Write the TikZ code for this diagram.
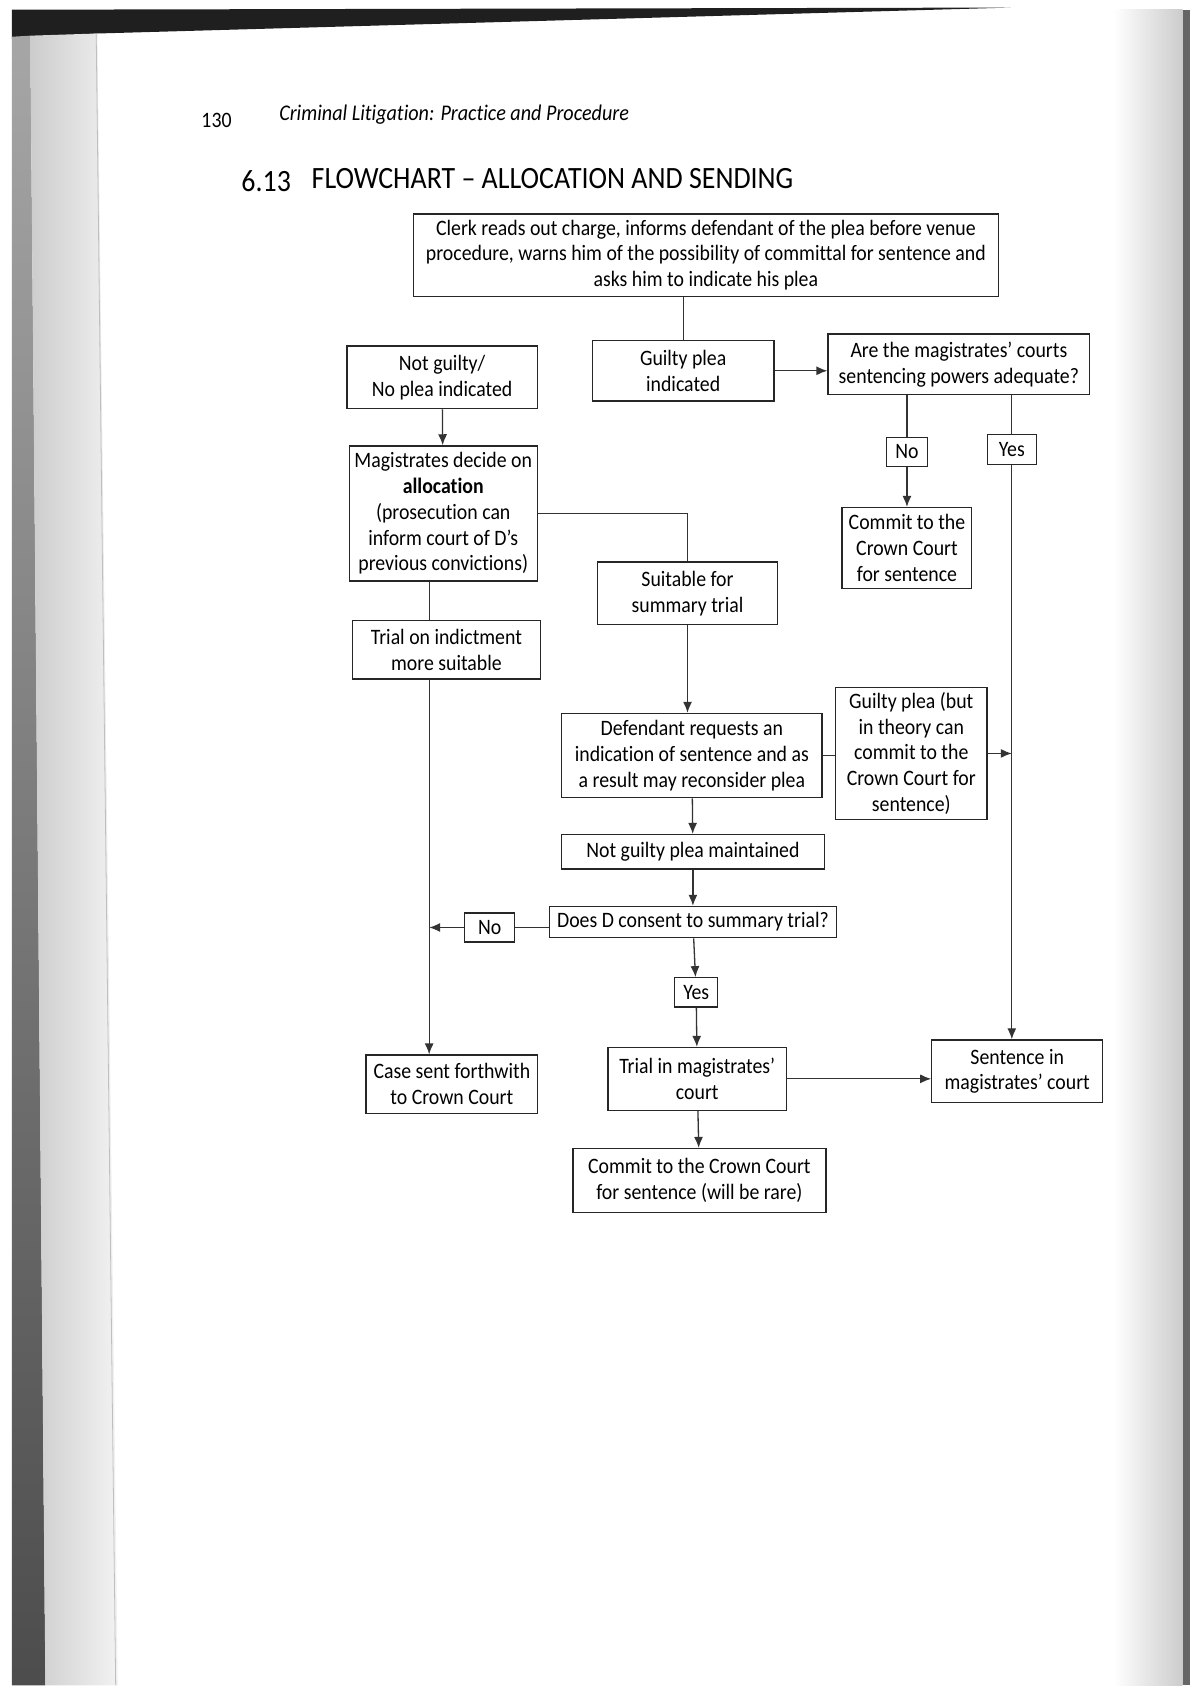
\documentclass[tikz,border=0pt]{standalone}
\usepackage{fontspec}
\setmainfont{Carlito}[FakeStretch=0.9, Ligatures=NoCommon]
\usetikzlibrary{arrows.meta}

\begin{document}
\begin{tikzpicture}[x=0.5405pt,y=-0.5405pt,
  box/.style={draw=black!85, line width=0.65pt, fill=white, align=center, inner sep=1pt,
    font=\fontsize{11}{12.9}\selectfont},
  sz/.style 2 args={minimum width=#1*0.5405pt, minimum height=#2*0.5405pt},
  link/.style={draw=black!80, line width=0.65pt},
  arr/.style={link, -{Latex[length=5.5pt,width=4.5pt]}}]
  \useasboundingbox (0,0) rectangle (1110,1570.77);

  % scanned page edges
  \fill[black!88] (11,9) -- (935,7) -- (90,31) -- (11,36) -- cycle;
  \shade[top color=black!35, bottom color=black!70] (11,34) -- (28,33) -- (42,1559) -- (11,1559) -- cycle;
  \shade[left color=black!20, right color=black!5] (28,33) -- (90,31) -- (109,1559) -- (42,1559) -- cycle;
  \draw[black!25] (89,31) -- (107,1559);
  \shade[left color=white, right color=black!20] (1030,9) rectangle (1094,1559);
  \fill[black!60] (1094,9) rectangle (1101,1559);

  % running head and title
  \node[anchor=west, inner sep=0, font=\fontsize{11}{13}\selectfont] (pagenum) at (186,111) {130};
  \node[anchor=west, inner sep=0, font=\itshape\fontsize{11.2}{13}\selectfont] (runhead) at (258,106) {Criminal Litigation: Practice and Procedure};
  \node[anchor=west, inner sep=0, font=\fontsize{15.5}{17}\selectfont] (secno) at (223,168) {6.13};
  \node[anchor=west, inner sep=0, font=\fontsize{15.5}{17}\selectfont] (title) at (288,165) {FLOWCHART – ALLOCATION AND SENDING};

  % boxes
  \node[box, sz={541}{76}] (clerk) at (653,236) {Clerk reads out charge, informs defendant of the plea before venue\\ procedure, warns him of the possibility of committal for sentence and\\ asks him to indicate his plea};
  \node[box, sz={176}{58}] (notguilty) at (409,349) {Not guilty/\\ No plea indicated};
  \node[box, sz={168}{56}] (guilty) at (632,343) {Guilty plea\\ indicated};
  \node[box, sz={242}{56}] (adequate) at (887,337) {Are the magistrates’ courts\\ sentencing powers adequate?};
  \node[box, sz={38}{27}] (no1) at (839,418) {No};
  \node[box, sz={45}{28}] (yes1) at (936,416) {Yes};
  \node[box, sz={120}{75}] (commit1) at (839,507) {Commit to the\\ Crown Court\\ for sentence};
  \node[box, sz={174}{125}] (alloc) at (410,475) {Magistrates decide on\\ \textbf{allocation}\\ (prosecution can\\ inform court of D’s\\ previous convictions)};
  \node[box, sz={166}{58}] (suitable) at (636,549) {Suitable for\\ summary trial};
  \node[box, sz={174}{54}] (indict) at (413,601) {Trial on indictment\\ more suitable};
  \node[box, sz={241}{78}] (defreq) at (640,699) {Defendant requests an\\ indication of sentence and as\\ a result may reconsider plea};
  \node[box, sz={140}{122}] (gpbut) at (843,697) {Guilty plea (but\\ in theory can\\ commit to the\\ Crown Court for\\ sentence)};
  \node[box, sz={243}{32}] (maintained) at (641,788) {Not guilty plea maintained};
  \node[box, sz={265}{29}] (consent) at (641,853) {Does D consent to summary trial?};
  \node[box, sz={46}{27}] (no2) at (453,858) {No};
  \node[box, sz={40}{27}] (yes2) at (644,918) {Yes};
  \node[box, sz={165}{58}] (trialmc) at (645,998) {Trial in magistrates’\\ court};
  \node[box, sz={158}{58}] (sentence) at (941,991) {Sentence in\\ magistrates’ court};
  \node[box, sz={234}{59}] (commit2) at (647,1092) {Commit to the Crown Court\\ for sentence (will be rare)};
  \node[box, sz={159}{54}] (case) at (418,1003) {Case sent forthwith\\ to Crown Court};
  \coordinate (spine) at (397,858);

  % connectors
  \draw[link] (clerk.south -| guilty.north) -- (guilty.north);
  \draw[link] (adequate.south -| no1.north) -- (no1.north);
  \draw[link] (adequate.south -| yes1.north) -- (yes1.north);
  \draw[link] (alloc.east) -| (suitable.north);
  \draw[link] (alloc.south -| spine) -- (indict.north -| spine);
  \draw[link] (defreq.east) -- (defreq.east -| gpbut.west);
  \draw[link] (consent.west |- no2.east) -- (no2.east);
  \draw[arr] (guilty.east) -- (guilty.east -| adequate.west);
  \draw[arr] (yes1.south) -- (yes1.south |- sentence.north);
  \draw[arr] (gpbut.east) -- (gpbut.east -| yes1.south);
  \draw[arr] (indict.south -| spine) -- (case.north -| spine);
  \draw[arr] (no2.west) -- (spine);
  \draw[arr] (suitable.south) -- (suitable.south |- defreq.north);
  \draw[arr] (trialmc.east) -- (trialmc.east -| sentence.west);
  \foreach \from/\to in {notguilty/alloc, no1/commit1, defreq/maintained,
    maintained/consent, consent/yes2, yes2/trialmc, trialmc/commit2}
    \draw[arr] (\from) -- (\to);
\end{tikzpicture}
\end{document}
